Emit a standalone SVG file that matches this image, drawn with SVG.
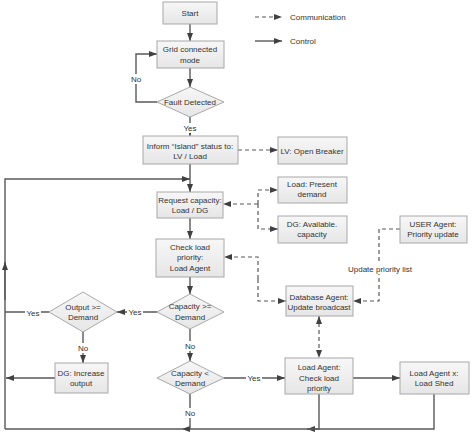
<svg xmlns="http://www.w3.org/2000/svg" width="474" height="436" viewBox="0 0 474 436">
<defs>
<linearGradient id="g" x1="0" y1="0" x2="0" y2="1">
<stop offset="0" stop-color="#f7f7f7"/>
<stop offset="1" stop-color="#e6e6e6"/>
</linearGradient>
<marker id="a" viewBox="0 0 8 6" refX="8" refY="3" markerWidth="8" markerHeight="6" markerUnits="userSpaceOnUse" orient="auto">
<path d="M0,0 L8,3 L0,6 z" fill="#404040"/>
</marker>
<marker id="as" viewBox="0 0 8 6" refX="8" refY="3" markerWidth="8" markerHeight="6" markerUnits="userSpaceOnUse" orient="auto-start-reverse">
<path d="M0,0 L8,3 L0,6 z" fill="#404040"/>
</marker>
</defs>
<style>
.b{fill:url(#g);stroke:#a8a8a8;stroke-width:1}
.t{font-family:"Liberation Sans",Arial,sans-serif;font-size:8px;fill:#333;text-anchor:middle}
.l{fill:none;stroke:#595959;stroke-width:1.4}
.d{fill:none;stroke:#595959;stroke-width:1.2;stroke-dasharray:4,3}
.w{fill:#fff}
</style>
<rect width="474" height="436" fill="#fff"/>

<g id="connectors">
<line class="l" x1="190" y1="24" x2="190" y2="41" marker-end="url(#a)"/>
<line class="l" x1="190" y1="68" x2="190" y2="87" marker-end="url(#a)"/>
<polyline class="l" points="157,102 136,102 136,54 157,54" marker-end="url(#a)"/>
<line class="l" x1="190" y1="117" x2="190" y2="136" marker-end="url(#a)"/>
<line class="d" x1="238" y1="150" x2="278" y2="150" marker-end="url(#a)"/>
<line class="l" x1="190" y1="164" x2="190" y2="192" marker-end="url(#a)"/>
<polyline class="l" points="5,429 5,179 190,179" marker-end="url(#a)"/>
<line class="l" x1="5" y1="300" x2="5" y2="262" marker-end="url(#a)"/>
<line class="d" x1="258" y1="204" x2="223" y2="204" marker-end="url(#a)"/>
<polyline class="d" points="258,204 258,190 278,190" marker-end="url(#a)"/>
<polyline class="d" points="258,204 258,229 278,229" marker-end="url(#a)"/>
<line class="l" x1="190" y1="218" x2="190" y2="239" marker-end="url(#a)"/>
<polyline class="d" points="258,279 258,257 224,257" marker-end="url(#a)"/>
<polyline class="d" points="258,279 258,301 286,301" marker-end="url(#a)"/>
<polyline class="d" points="400,229 379,229 379,301 353,301" marker-end="url(#a)"/>
<line class="d" x1="319" y1="316" x2="319" y2="358" marker-start="url(#as)" marker-end="url(#a)"/>
<line class="l" x1="190" y1="277" x2="190" y2="294" marker-end="url(#a)"/>
<line class="l" x1="157" y1="312" x2="117" y2="312" marker-end="url(#a)"/>
<line class="l" x1="49" y1="312" x2="5" y2="312"/>
<line class="l" x1="83" y1="332" x2="83" y2="363" marker-end="url(#a)"/>
<line class="l" x1="55" y1="378" x2="6" y2="378" marker-end="url(#a)"/>
<line class="l" x1="190" y1="329" x2="190" y2="361" marker-end="url(#a)"/>
<line class="l" x1="224" y1="378" x2="285" y2="378" marker-end="url(#a)"/>
<line class="l" x1="353" y1="378" x2="400" y2="378" stroke-width="2" marker-end="url(#a)"/>
<polyline class="l" points="434,394 434,429 319,429"/>
<line class="l" x1="319" y1="429" x2="307" y2="429" marker-end="url(#a)"/>
<polyline class="l" points="319,394 319,429 190,429"/>
<line class="l" x1="190" y1="429" x2="182" y2="429" marker-end="url(#a)"/>
<line class="l" x1="182" y1="429" x2="5" y2="429"/>
<line class="l" x1="190" y1="394" x2="190" y2="429"/>
<line class="d" x1="255" y1="17" x2="282" y2="17" marker-end="url(#a)"/>
<line class="l" x1="255" y1="41" x2="282" y2="41" marker-end="url(#a)"/>
<rect class="w" x="128" y="74" width="16" height="10"/>
<text class="t" x="136" y="82">No</text>
<rect class="w" x="182" y="123" width="16" height="10"/>
<text class="t" x="190" y="131">Yes</text>
<rect class="w" x="127" y="307" width="16" height="10"/>
<text class="t" x="135" y="315">Yes</text>
<rect class="w" x="25" y="308" width="16" height="10"/>
<text class="t" x="33" y="316">Yes</text>
<rect class="w" x="75" y="343" width="16" height="10"/>
<text class="t" x="83" y="351">No</text>
<rect class="w" x="182" y="341" width="16" height="10"/>
<text class="t" x="190" y="349">No</text>
<rect class="w" x="182" y="408" width="16" height="10"/>
<text class="t" x="190" y="416">No</text>
<rect class="w" x="246" y="373" width="16" height="10"/>
<text class="t" x="254" y="381">Yes</text>
<rect class="w" x="346" y="264" width="68" height="10"/>
<text class="t" x="380" y="272">Update priority list</text>
<text class="t" x="290" y="20" style="text-anchor:start">Communication</text>
<text class="t" x="290" y="44" style="text-anchor:start">Control</text>
</g>

<g id="start"><rect class="b" x="163" y="2" width="54" height="22"/><text class="t" x="190" y="16">Start</text></g>
<g id="grid"><rect class="b" x="157" y="41" width="67" height="27"/><text class="t" x="190" y="52">Grid connected</text><text class="t" x="190" y="63">mode</text></g>
<g id="fault"><polygon class="b" points="190,87 224,102 190,117 157,102"/><text class="t" x="190" y="105">Fault Detected</text></g>
<g id="inform"><rect class="b" x="143" y="136" width="95" height="28"/><text class="t" x="190" y="149">Inform “Island” status to:</text><text class="t" x="190" y="159">LV / Load</text></g>
<g id="lv"><rect class="b" x="278" y="137" width="69" height="27"/><text class="t" x="312" y="154">LV: Open Breaker</text></g>
<g id="request"><rect class="b" x="157" y="192" width="66" height="26"/><text class="t" x="190" y="203">Request capacity:</text><text class="t" x="190" y="213">Load / DG</text></g>
<g id="load"><rect class="b" x="278" y="177" width="69" height="26"/><text class="t" x="312" y="187">Load: Present</text><text class="t" x="312" y="197">demand</text></g>
<g id="dg"><rect class="b" x="278" y="216" width="69" height="27"/><text class="t" x="312" y="227">DG: Available.</text><text class="t" x="312" y="237">capacity</text></g>
<g id="user"><rect class="b" x="400" y="216" width="67" height="27"/><text class="t" x="433" y="227">USER Agent:</text><text class="t" x="433" y="237">Priority update</text></g>
<g id="check"><rect class="b" x="156" y="239" width="68" height="38"/><text class="t" x="190" y="250">Check load</text><text class="t" x="190" y="260">priority:</text><text class="t" x="190" y="271">Load Agent</text></g>
<g id="database"><rect class="b" x="286" y="286" width="67" height="30"/><text class="t" x="319" y="300">Database Agent:</text><text class="t" x="319" y="310">Update broadcast</text></g>
<g id="capge"><polygon class="b" points="190,294 224,312 190,329 157,312"/><text class="t" x="190" y="309">Capacity &gt;=</text><text class="t" x="190" y="320">Demand</text></g>
<g id="outge"><polygon class="b" points="83,292 117,312 83,332 49,312"/><text class="t" x="83" y="310">Output &gt;=</text><text class="t" x="83" y="320">Demand</text></g>
<g id="dginc"><rect class="b" x="55" y="363" width="53" height="30"/><text class="t" x="81" y="376">DG: Increase</text><text class="t" x="81" y="386">output</text></g>
<g id="caplt"><polygon class="b" points="190,361 224,378 190,394 157,378"/><text class="t" x="190" y="376">Capacity &lt;</text><text class="t" x="190" y="386">Demand</text></g>
<g id="loadagent"><rect class="b" x="285" y="358" width="68" height="36"/><text class="t" x="319" y="370">Load Agent:</text><text class="t" x="319" y="381">Check load</text><text class="t" x="319" y="391">priority</text></g>
<g id="loadshed"><rect class="b" x="400" y="362" width="69" height="32"/><text class="t" x="434" y="376">Load Agent x:</text><text class="t" x="434" y="386">Load Shed</text></g>
</svg>
